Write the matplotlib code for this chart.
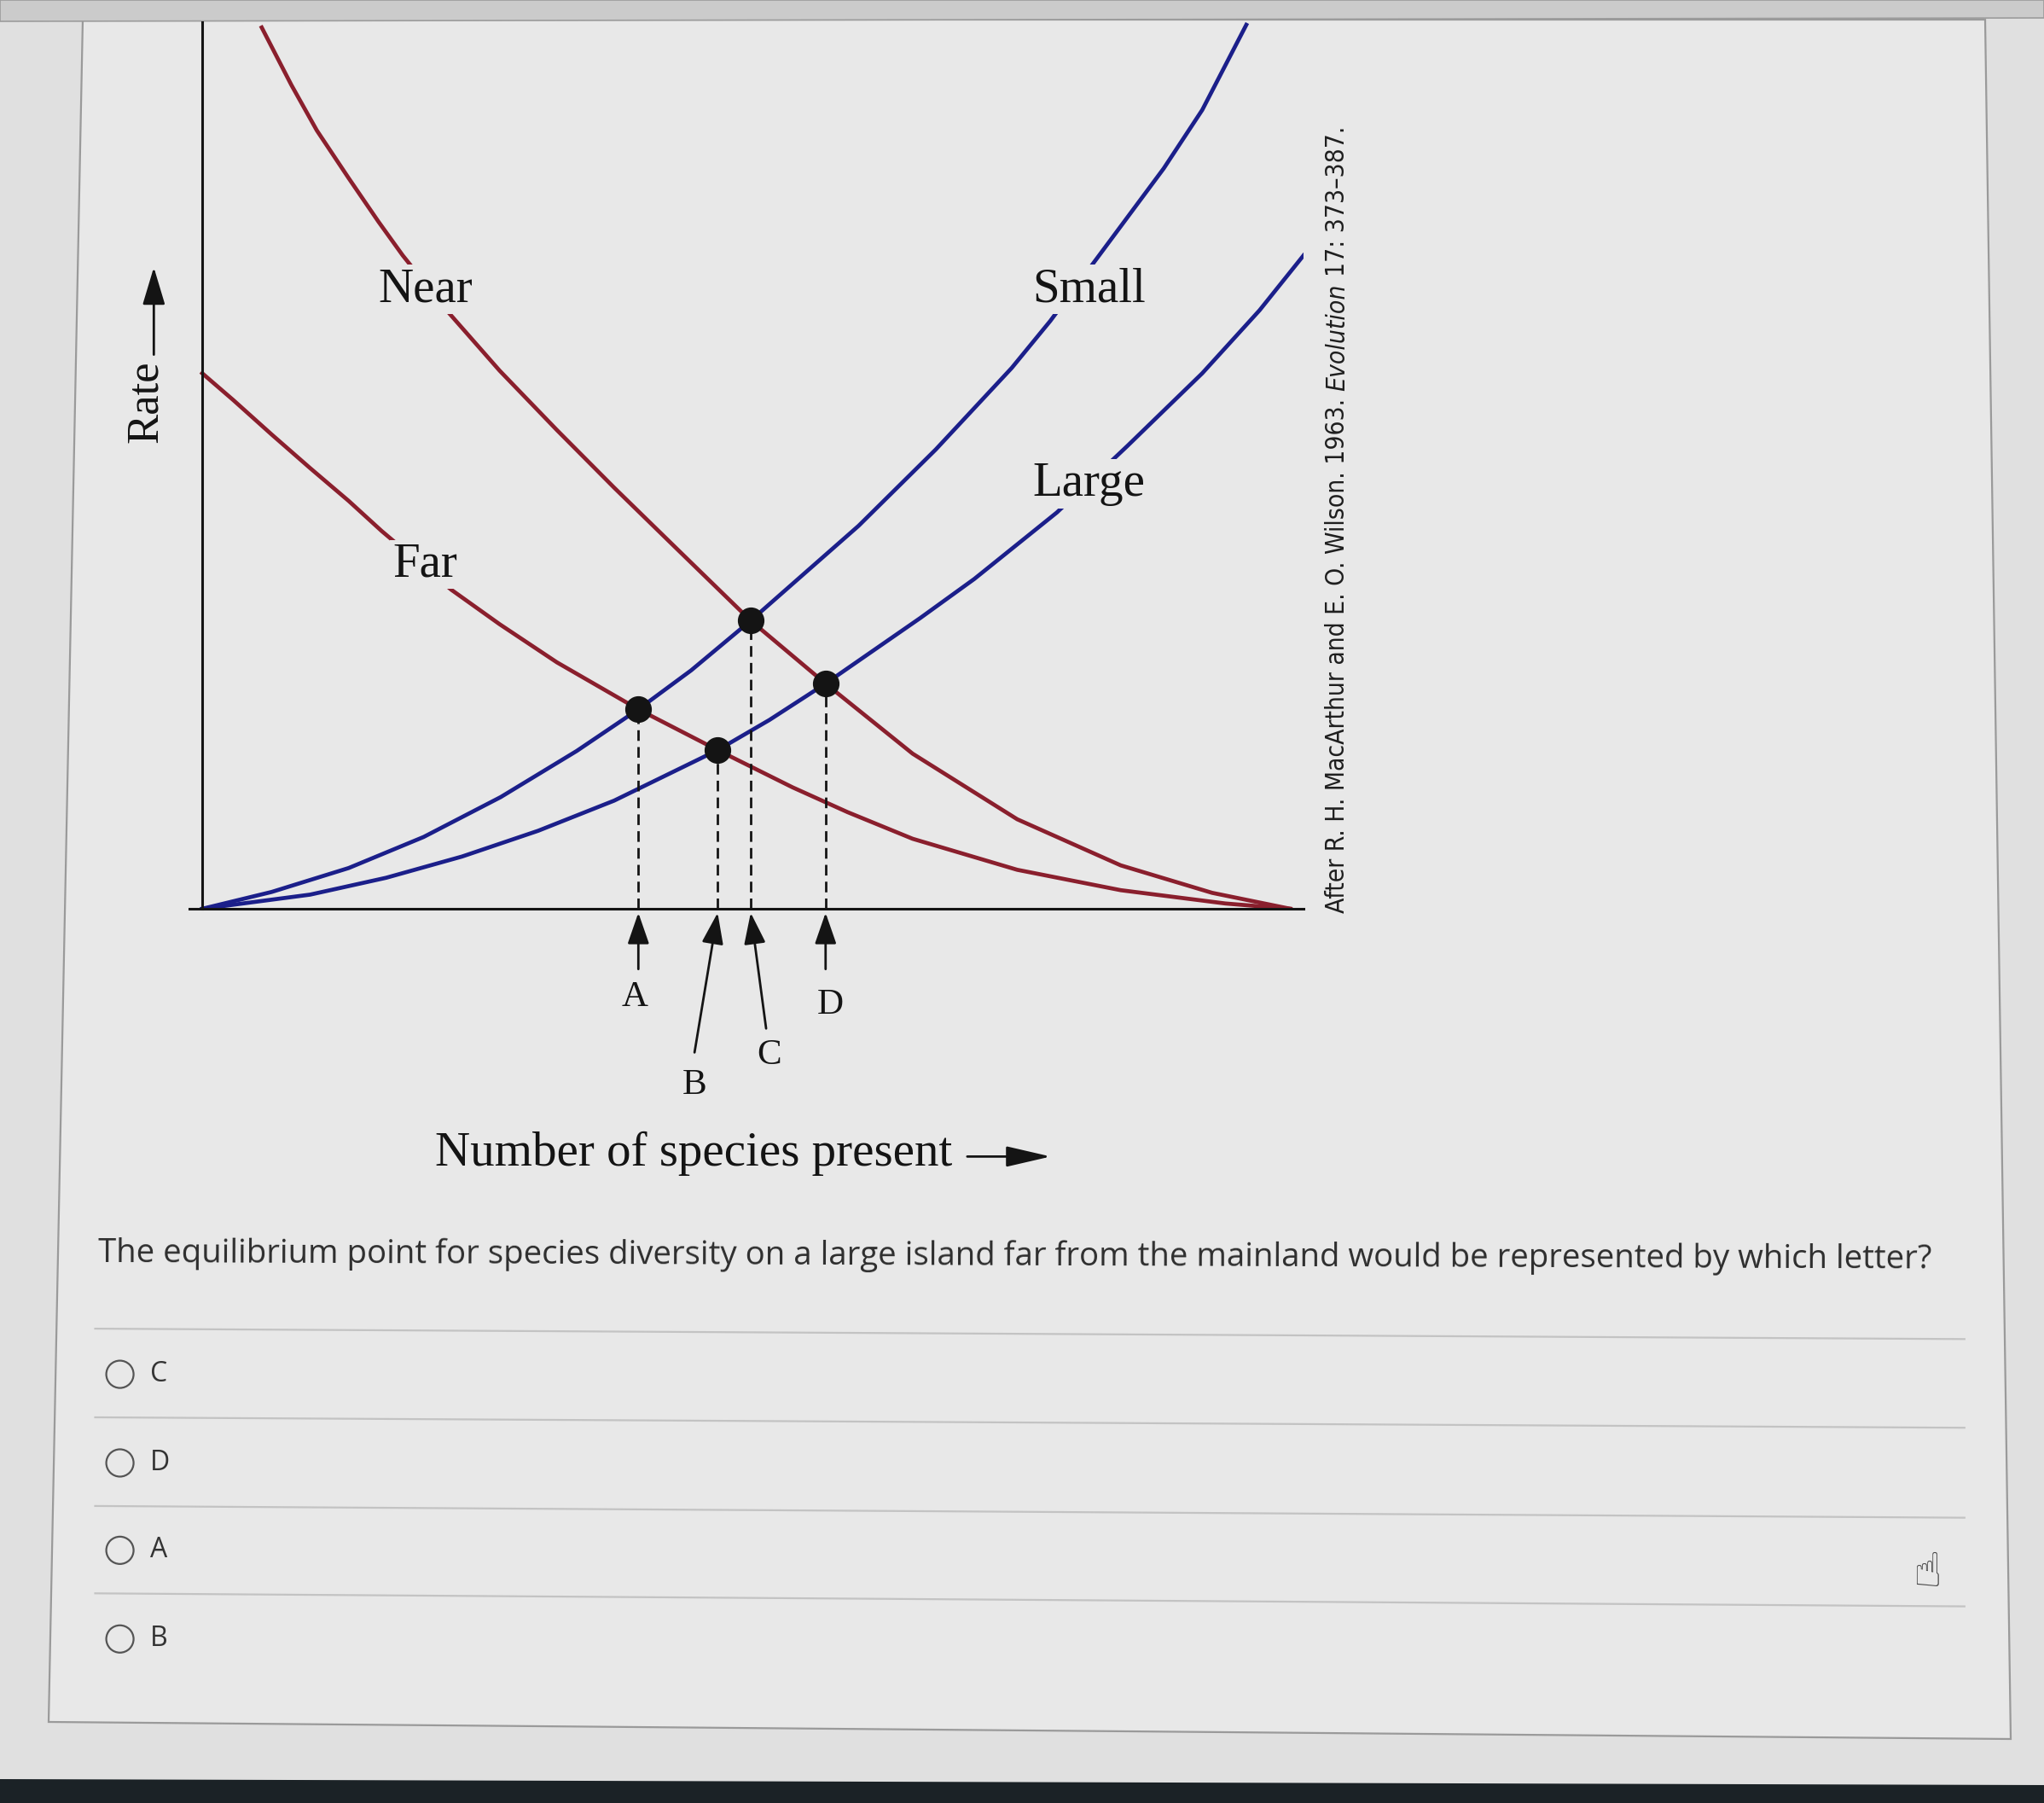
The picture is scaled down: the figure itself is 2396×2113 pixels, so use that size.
#!/usr/bin/env python3
"""
Island biogeography equilibrium chart (MacArthur & Wilson) with the quiz
question underneath, as in the screenshot.
"""

import matplotlib
matplotlib.use("Agg")
import matplotlib.pyplot as plt
from matplotlib.patches import Circle, Polygon

W, H = 2396, 2113
S = W / 1568.0   # layout numbers below were read on the 1568 px preview

# ---- data (x = species present, y = rate; 0-100) ----
near_x = [5.4, 8.1, 10.4, 13.3, 16.0, 18.2, 22.4, 27.0, 32.2, 37.4, 42.6,
          49.8, 56.6, 64.5, 74.0, 83.4, 91.7, 98.8]
near_y = [99.4, 92.9, 87.8, 82.4, 77.5, 73.7, 67.2, 60.7, 54.0, 47.5, 41.2,
          32.5, 25.4, 17.5, 10.1, 4.9, 1.8, 0.0]

far_x = [0.0, 2.8, 6.3, 9.8, 13.3, 16.3, 22.6, 27.0, 32.2, 39.6, 46.8,
         53.6, 58.6, 64.5, 74.0, 83.4, 92.9, 98.8]
far_y = [60.4, 57.4, 53.5, 49.7, 46.0, 42.6, 36.0, 32.1, 27.8, 22.5, 17.9,
         13.7, 10.9, 7.9, 4.4, 2.1, 0.6, 0.0]

small_x = [0.0, 6.3, 13.3, 20.1, 27.1, 34.0, 39.6, 44.4, 49.8, 59.6, 66.6,
           73.5, 77.0, 81.5, 87.3, 90.8, 94.8]
small_y = [0.0, 1.9, 4.6, 8.1, 12.6, 17.8, 22.5, 26.9, 32.5, 43.2, 51.8,
           61.0, 66.3, 73.8, 83.5, 90.1, 99.7]

large_x = [0.0, 9.8, 16.7, 23.6, 30.5, 37.4, 46.8, 51.5, 56.6, 65.2, 70.1,
           77.6, 84.0, 90.8, 96.0, 100.0]
large_y = [0.0, 1.6, 3.5, 5.9, 8.8, 12.2, 17.9, 21.3, 25.4, 32.8, 37.2,
           44.7, 52.2, 60.4, 67.5, 73.7]

eq_labels = ["A", "B", "C", "D"]
eq_x = [39.6, 46.8, 49.8, 56.6]
eq_y = [22.5, 17.9, 32.5, 25.4]

curve_names = ["Near", "Far", "Small", "Large"]

question = ("The equilibrium point for species diversity on a large island far "
            "from the mainland would be represented by which letter?")
options = ["C", "D", "A", "B"]

cite_parts = ["After R. H. MacArthur and E. O. Wilson. 1963.", "Evolution",
              "17: 373\u2013387."]
cite_styles = ["normal", "italic", "normal"]

RED = "#8a1f2d"
BLUE = "#1b1f8a"
INK = "#141414"
CARD = "#e8e8e8"

fig = plt.figure(figsize=(W / 100, H / 100), dpi=100, facecolor="#e0e0e0")

# ---- background "screen" layer, in pixel units ----
bg = fig.add_axes([0, 0, 1, 1], zorder=0)
bg.set_xlim(0, W)
bg.set_ylim(H, 0)
bg.axis("off")

bg.add_patch(Polygon([(97, 23), (2327, 23), (2357, 2038), (57, 2018)],
                     closed=True, facecolor=CARD, edgecolor="#9a9a9a", lw=1.6))
bg.add_patch(Polygon([(0, 0), (W, 0), (W, 21), (0, 25)], closed=True,
                     facecolor="#cbcbcb", edgecolor="#9c9c9c", lw=1.2))
bg.add_patch(Polygon([(0, 2085), (W, 2092), (W, H), (0, H)], closed=True,
                     facecolor="#1b2226", edgecolor="none"))

# ---- the chart ----
x0, x1, y0, y1 = 145 * S, 1000 * S, 17 * S, 697 * S
ax = fig.add_axes([x0 / W, 1 - y1 / H, (x1 - x0) / W, (y1 - y0) / H], zorder=1)
ax.set_facecolor("none")
ax.set_xlim(-1.2, 100)
ax.set_ylim(0, 100)
for side in ["top", "right"]:
    ax.spines[side].set_visible(False)
ax.spines["left"].set_position(("data", 0))
for side in ["left", "bottom"]:
    ax.spines[side].set_linewidth(2.2)
    ax.spines[side].set_color(INK)
ax.set_xticks([])
ax.set_yticks([])

for cx, cy, col in [(near_x, near_y, RED), (far_x, far_y, RED),
                    (small_x, small_y, BLUE), (large_x, large_y, BLUE)]:
    ax.plot(cx, cy, color=col, lw=3.4, zorder=2, solid_joinstyle="round")

ax.vlines(eq_x, 0, eq_y, colors=INK, lw=2.0, linestyles=(0, (4.5, 2.6)),
          zorder=3)
ax.scatter(eq_x, eq_y, s=460, color=INK, zorder=5)

# curve labels sit on the lines and blank them out
label_pos = [(20.3, 68.5), (20.2, 37.5), (80.5, 68.5), (80.5, 46.6)]
for name, (lx, ly) in zip(curve_names, label_pos):
    ax.text(lx, ly, name, ha="center", va="baseline", fontsize=41,
            family="Liberation Serif", color=INK, zorder=4,
            bbox=dict(facecolor=CARD, edgecolor="none", pad=2))

# arrows and letters under the axis
tail_dx = [0, -2.1, 1.4, 0]
tail_y = [-6.8, -16.2, -13.5, -6.8]
text_dx = [-0.3, -2.1, 1.7, 0.4]
text_y = [-10.0, -19.9, -16.5, -10.8]
for i, lab in enumerate(eq_labels):
    ax.annotate("", xy=(eq_x[i], -0.45), xytext=(eq_x[i] + tail_dx[i], tail_y[i]),
                annotation_clip=False,
                arrowprops=dict(arrowstyle="-|>,head_length=0.75,head_width=0.26",
                                mutation_scale=30, lw=2.0, color=INK,
                                shrinkA=0, shrinkB=0))
    ax.text(eq_x[i] + text_dx[i], text_y[i], lab, ha="center", va="center",
            fontsize=31, family="Liberation Serif", color=INK, clip_on=False)

# axis titles
bg.text(112 * S, 308 * S, "Rate", rotation=90, ha="center", va="center",
        fontsize=38, family="Liberation Serif", color=INK)
bg.annotate("", xy=(118 * S, 205 * S), xytext=(118 * S, 272 * S),
            arrowprops=dict(arrowstyle="-|>,head_length=0.8,head_width=0.24",
                            mutation_scale=34, lw=2.0, color=INK,
                            shrinkA=0, shrinkB=0))
bg.text(334 * S, 894 * S, "Number of species present", ha="left",
        va="baseline", fontsize=41, family="Liberation Serif", color=INK)
bg.annotate("", xy=(806 * S, 887 * S), xytext=(742 * S, 887 * S),
            arrowprops=dict(arrowstyle="-|>,head_length=0.95,head_width=0.22",
                            mutation_scale=34, lw=2.0, color=INK,
                            shrinkA=0, shrinkB=0))

# citation, rotated, pieces laid end to end
cite_texts = [bg.text(1026 * S, 0, part, rotation=90, ha="center", va="bottom",
                      fontsize=20, style=st, stretch="condensed",
                      color="#1e1e1e",
                      family=["Liberation Sans Narrow", "DejaVu Sans"])
              for part, st in zip(cite_parts, cite_styles)]

# quiz question and options
q = bg.text(75 * S, 961 * S, question, ha="left", va="center", fontsize=26,
            family="Open Sans", color="#2e2e2e", rotation=-0.2,
            rotation_mode="anchor")

sep_left = [1019, 1087, 1155, 1222]
sep_right = [1027, 1095, 1164, 1232]
for yl, yr in zip(sep_left, sep_right):
    bg.plot([73 * S, 1507 * S], [yl * S, yr * S], color="#c3c3c3", lw=1.6)

opt_y = [1054, 1122, 1189, 1257]
for lab, oy in zip(options, opt_y):
    bg.add_patch(Circle((92 * S, oy * S), 16, facecolor="none",
                        edgecolor="#555555", lw=1.6))
    bg.text(115 * S, oy * S, lab, ha="left", va="center", fontsize=23,
            family="Open Sans", color="#333333")

bg.text(1478 * S, 1207 * S, "\u261d", ha="center", va="center", fontsize=40,
        family="DejaVu Sans", color="#4a4a4a")

# size the citation and question to their lengths in the screenshot
fig.canvas.draw()
r = fig.canvas.get_renderer()

cite_len = (700 - 96) * S
lens = [t.get_window_extent(r).height for t in cite_texts]
gap = 0.28 * 20 * 100 / 72
k = cite_len / (sum(lens) + 2 * gap)
for t in cite_texts:
    t.set_fontsize(20 * k)
fig.canvas.draw()
gap = 0.28 * 20 * k * 100 / 72
y = 700 * S
for t in cite_texts:
    t.set_y(y)
    y -= t.get_window_extent(r).height + gap

qw = q.get_window_extent(r).width
q.set_fontsize(26 * (1412 * S) / qw)

fig.savefig("out.png", dpi=100, facecolor=fig.get_facecolor())
plt.close(fig)
